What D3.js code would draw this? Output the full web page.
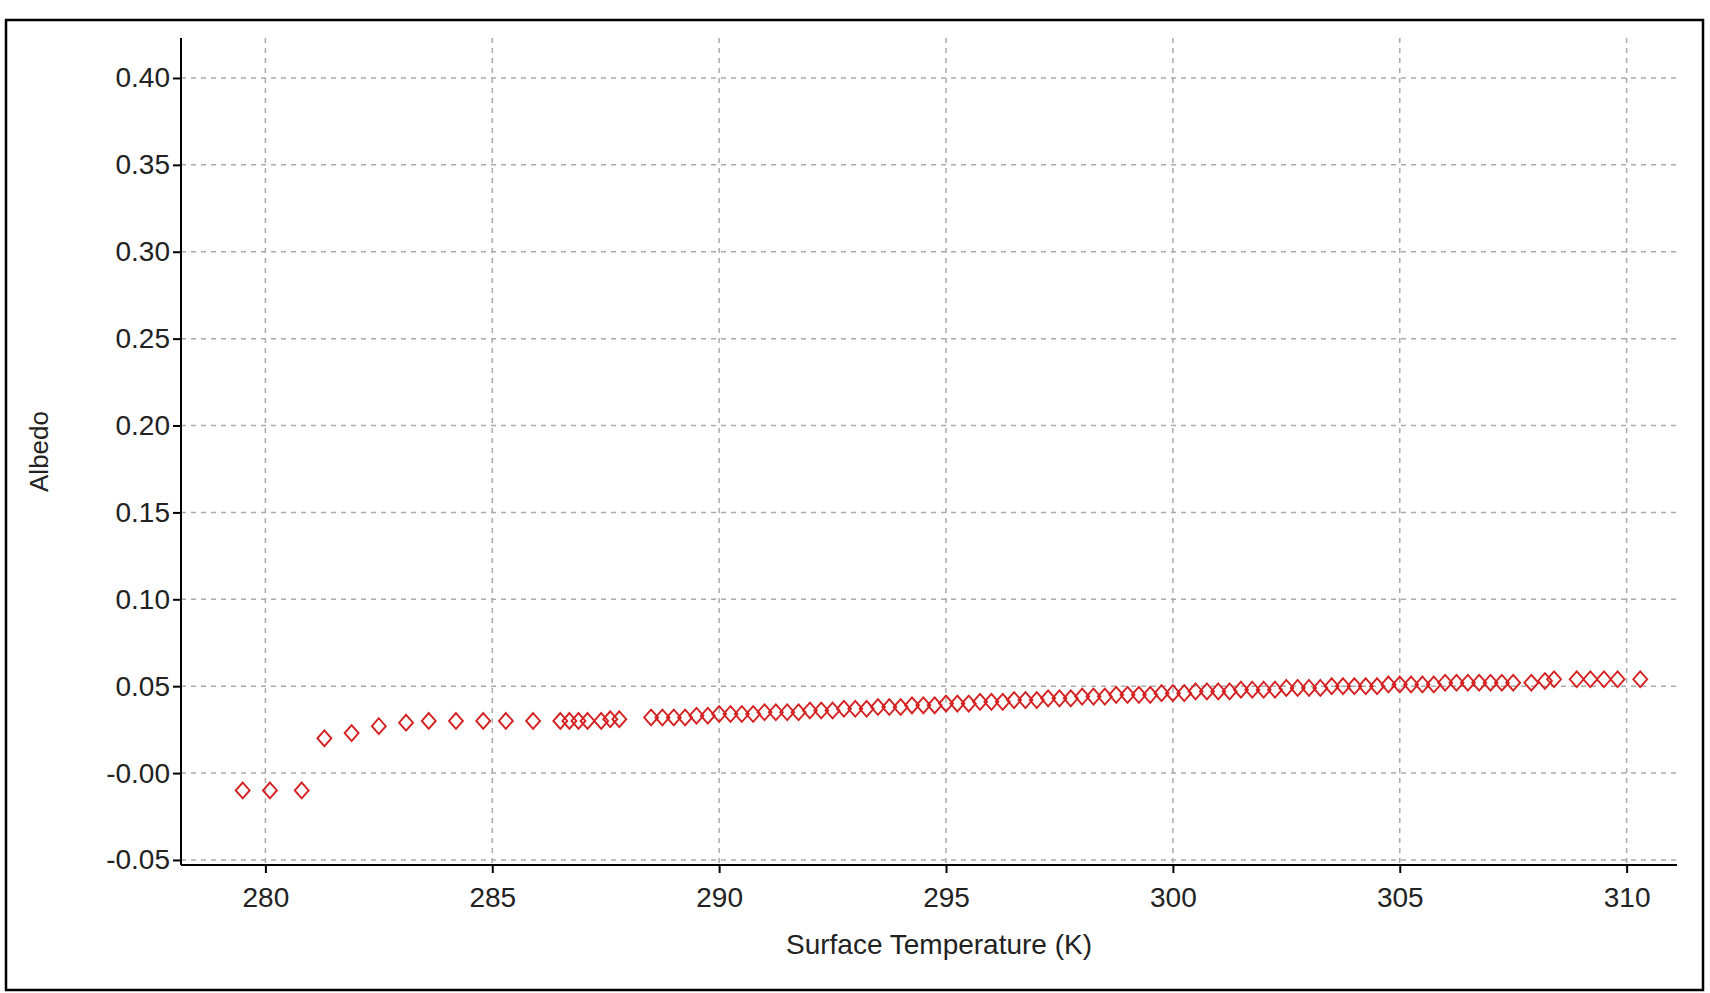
<!DOCTYPE html>
<html><head><meta charset="utf-8">
<script src="https://cdn.jsdelivr.net/npm/d3@7"></script>
<style>body{margin:0;background:#fff}text{font-family:"Liberation Sans",Arial,sans-serif}</style>
</head><body><svg id="c" width="1710" height="993"></svg>
<script>
const temps = [279.5,280.1,280.8,281.3,281.9,282.5,283.1,283.6,284.2,284.8,285.3,285.9,286.5,286.7,286.9,287.1,287.4,287.6,287.8,
288.5,288.75,289,289.25,289.5,289.75,290,290.25,290.5,290.75,291,291.25,291.5,291.75,292,292.25,292.5,292.75,293,293.25,293.5,293.75,294,294.25,294.5,294.75,295,295.25,295.5,295.75,296,296.25,296.5,296.75,297,297.25,297.5,297.75,298,298.25,298.5,298.75,299,299.25,299.5,299.75,300,300.25,300.5,300.75,301,301.25,301.5,301.75,302,302.25,302.5,302.75,303,303.25,303.5,303.75,304,304.25,304.5,304.75,305,305.25,305.5,305.75,306,306.25,306.5,306.75,307,307.25,307.5,
307.9,308.2,308.4,308.9,309.2,309.5,309.8,310.3];
const albedo = [-0.010,-0.010,-0.010,0.020,0.023,0.027,0.029,0.030,0.030,0.030,0.030,0.030,0.030,0.030,0.030,0.030,0.030,0.031,0.031,
0.032,0.032,0.032,0.032,0.033,0.033,0.034,0.034,0.034,0.034,0.035,0.035,0.035,0.035,0.036,0.036,0.036,0.037,0.037,0.037,0.038,0.038,0.038,0.039,0.039,0.039,0.040,0.040,0.040,0.041,0.041,0.041,0.042,0.042,0.042,0.043,0.043,0.043,0.044,0.044,0.044,0.045,0.045,0.045,0.045,0.046,0.046,0.046,0.047,0.047,0.047,0.047,0.048,0.048,0.048,0.048,0.049,0.049,0.049,0.049,0.050,0.050,0.050,0.050,0.050,0.051,0.051,0.051,0.051,0.051,0.052,0.052,0.052,0.052,0.052,0.052,0.052,
0.052,0.053,0.054,0.054,0.054,0.054,0.054,0.054];
const xTicks = [280,285,290,295,300,305,310];
const yTicks = [-0.05,0,0.05,0.10,0.15,0.20,0.25,0.30,0.35,0.40];
const yLabels = ["-0.05","-0.00","0.05","0.10","0.15","0.20","0.25","0.30","0.35","0.40"];

const svg = d3.select("#c");
svg.append("rect").attr("x",6).attr("y",20).attr("width",1697).attr("height",970).attr("fill","none").attr("stroke","#000").attr("stroke-width",2.5);
const L=181,R=1677,T=38,B=865;
const x=d3.scaleLinear().domain([278.14,311.11]).range([L,R]);
const y=d3.scaleLinear().domain([-0.0529,0.423]).range([B,T]);
svg.append("g").selectAll("line").data(xTicks).join("line").attr("x1",d=>x(d)).attr("x2",d=>x(d)).attr("y1",T).attr("y2",B)
 .attr("stroke","#aaa").attr("stroke-width",1.5).attr("stroke-dasharray","5,5");
svg.append("g").selectAll("line").data(yTicks).join("line").attr("y1",d=>y(d)).attr("y2",d=>y(d)).attr("x1",L).attr("x2",R)
 .attr("stroke","#aaa").attr("stroke-width",1.5).attr("stroke-dasharray","5,5");
const xa=svg.append("g").attr("transform",`translate(0,${B})`).call(d3.axisBottom(x).tickValues(xTicks).tickSize(8).tickFormat(d3.format("d")));
const ya=svg.append("g").attr("transform",`translate(${L},0)`).call(d3.axisLeft(y).tickValues(yTicks).tickSize(8).tickFormat((d,i)=>yLabels[i]));
[xa,ya].forEach(a=>{a.selectAll("path,line").attr("stroke","#000").attr("stroke-width",2);a.selectAll("text").attr("font-size",28).attr("fill","#222").style("font-family","Liberation Sans, Arial, sans-serif");});
xa.select(".domain").attr("d",`M${L},0H${R}`);
ya.select(".domain").attr("d",`M0,${T}V${B}`);
xa.selectAll("text").attr("dy","1.1em");
const sym=d3.symbol().type(d3.symbolDiamond).size(80);
svg.append("g").selectAll("path").data(temps.map((t,i)=>[t,albedo[i]])).join("path")
 .attr("transform",d=>`translate(${x(d[0])},${y(d[1])}) scale(1.45,0.95)`).attr("d",sym)
 .attr("fill","none").attr("stroke","#d42020").attr("stroke-width",1.5);
svg.append("text").attr("x",(L+R)/2+10).attr("y",954).attr("text-anchor","middle").attr("font-size",28).attr("fill","#222").text("Surface Temperature (K)");
svg.append("text").attr("transform",`translate(48,${(T+B)/2}) rotate(-90)`).attr("text-anchor","middle").attr("font-size",26).attr("fill","#222").text("Albedo");
</script></body></html>
